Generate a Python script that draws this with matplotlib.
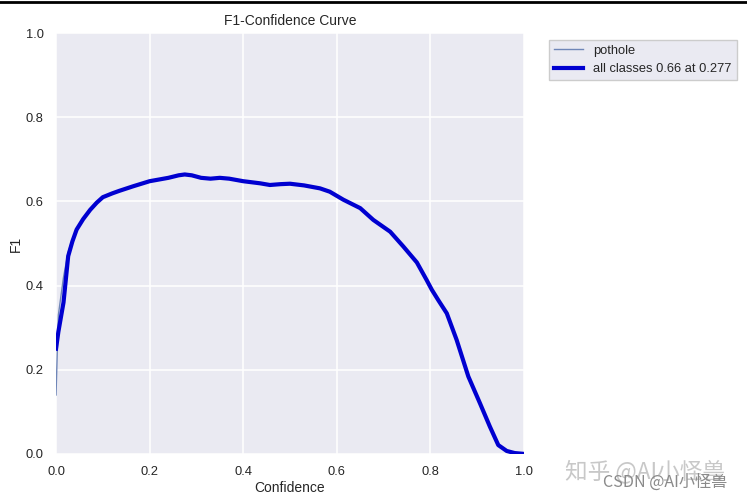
import matplotlib
matplotlib.use('Agg')
import matplotlib.pyplot as plt
from matplotlib.lines import Line2D
import numpy as np

# confidence / F1
conf = [0.0, 0.005, 0.016, 0.026, 0.035, 0.044, 0.058, 0.073, 0.087, 0.10, 0.12,
        0.135, 0.165, 0.20, 0.24, 0.262, 0.275, 0.29, 0.31, 0.33, 0.35, 0.37,
        0.40, 0.436, 0.457, 0.48, 0.50, 0.53, 0.564, 0.585, 0.614, 0.65, 0.678,
        0.714, 0.742, 0.771, 0.792, 0.803, 0.817, 0.835, 0.856, 0.881, 0.906,
        0.927, 0.945, 0.963, 0.98, 1.0]
f1_all = [0.25, 0.29, 0.36, 0.47, 0.505, 0.533, 0.558, 0.58, 0.597, 0.61, 0.619,
          0.625, 0.636, 0.648, 0.656, 0.662, 0.664, 0.662, 0.656, 0.654, 0.656, 0.654,
          0.648, 0.643, 0.639, 0.641, 0.642, 0.638, 0.631, 0.623, 0.604, 0.584, 0.556,
          0.528, 0.493, 0.455, 0.413, 0.39, 0.365, 0.334, 0.271, 0.184, 0.12,
          0.065, 0.021, 0.007, 0.002, 0.0]
f1_pothole = [0.14, 0.33, 0.42, 0.48, 0.51, 0.535, 0.558, 0.58, 0.597, 0.61, 0.619,
              0.625, 0.636, 0.648, 0.656, 0.662, 0.664, 0.662, 0.656, 0.654, 0.656, 0.654,
              0.648, 0.643, 0.639, 0.641, 0.642, 0.638, 0.631, 0.623, 0.604, 0.584, 0.556,
              0.528, 0.493, 0.455, 0.413, 0.39, 0.365, 0.334, 0.271, 0.184, 0.12,
              0.065, 0.021, 0.007, 0.002, 0.0]

plt.rcParams['font.family'] = ['Liberation Sans', 'DejaVu Sans']

fig = plt.figure(figsize=(7.47, 5.01), dpi=100)
ax = fig.add_axes([0.075, 0.094, 0.6265, 0.84])
ax.set_facecolor('#EAEAF2')
for s in ax.spines.values():
    s.set_visible(False)
ax.grid(True, color='white', linewidth=1.1)
ax.set_axisbelow(True)

ax.plot(conf, f1_pothole, linewidth=1, color='#6F86B8', label='pothole')
ax.plot(conf, f1_all, linewidth=3, color='#0000D0', label='all classes 0.66 at 0.277',
        solid_joinstyle='round')

ax.set_xlim(0, 1)
ax.set_ylim(0, 1)
ax.set_xticks(np.arange(0, 1.01, 0.2))
ax.set_yticks(np.arange(0, 1.01, 0.2))
ax.tick_params(axis='x', length=0, labelsize=9.3, colors='#262626', pad=9)
ax.tick_params(axis='y', length=0, labelsize=9.3, colors='#262626', pad=9)
ax.set_xlabel('Confidence', fontsize=10, color='#262626', labelpad=2)
ax.set_ylabel('F1', fontsize=10, color='#262626', labelpad=2)
ax.set_title('F1-Confidence Curve', fontsize=10, color='#262626', pad=6)

leg = ax.legend(bbox_to_anchor=(1.04, 1), loc='upper left', fontsize=9.3,
                frameon=True, fancybox=False, facecolor='#EAEAF2',
                edgecolor='#CCCCCC', framealpha=1, handlelength=2.2)
for t in leg.get_texts():
    t.set_color('#262626')

# black border line at the top of the screenshot
fig.add_artist(Line2D([0, 1], [0.997, 0.997], color='black', linewidth=2,
                      transform=fig.transFigure))

# watermarks
fig.text(0.756, 0.045, '知乎 @AI小怪兽', fontsize=16.3, color='#C8C8C8',
         family=['Noto Sans CJK SC', 'DejaVu Sans'])
fig.text(0.807, 0.028, 'CSDN @AI小怪兽', fontsize=11.6, color='#8A8A8A',
         family=['Noto Sans CJK SC', 'DejaVu Sans'])

fig.savefig('out.png', dpi=100)
